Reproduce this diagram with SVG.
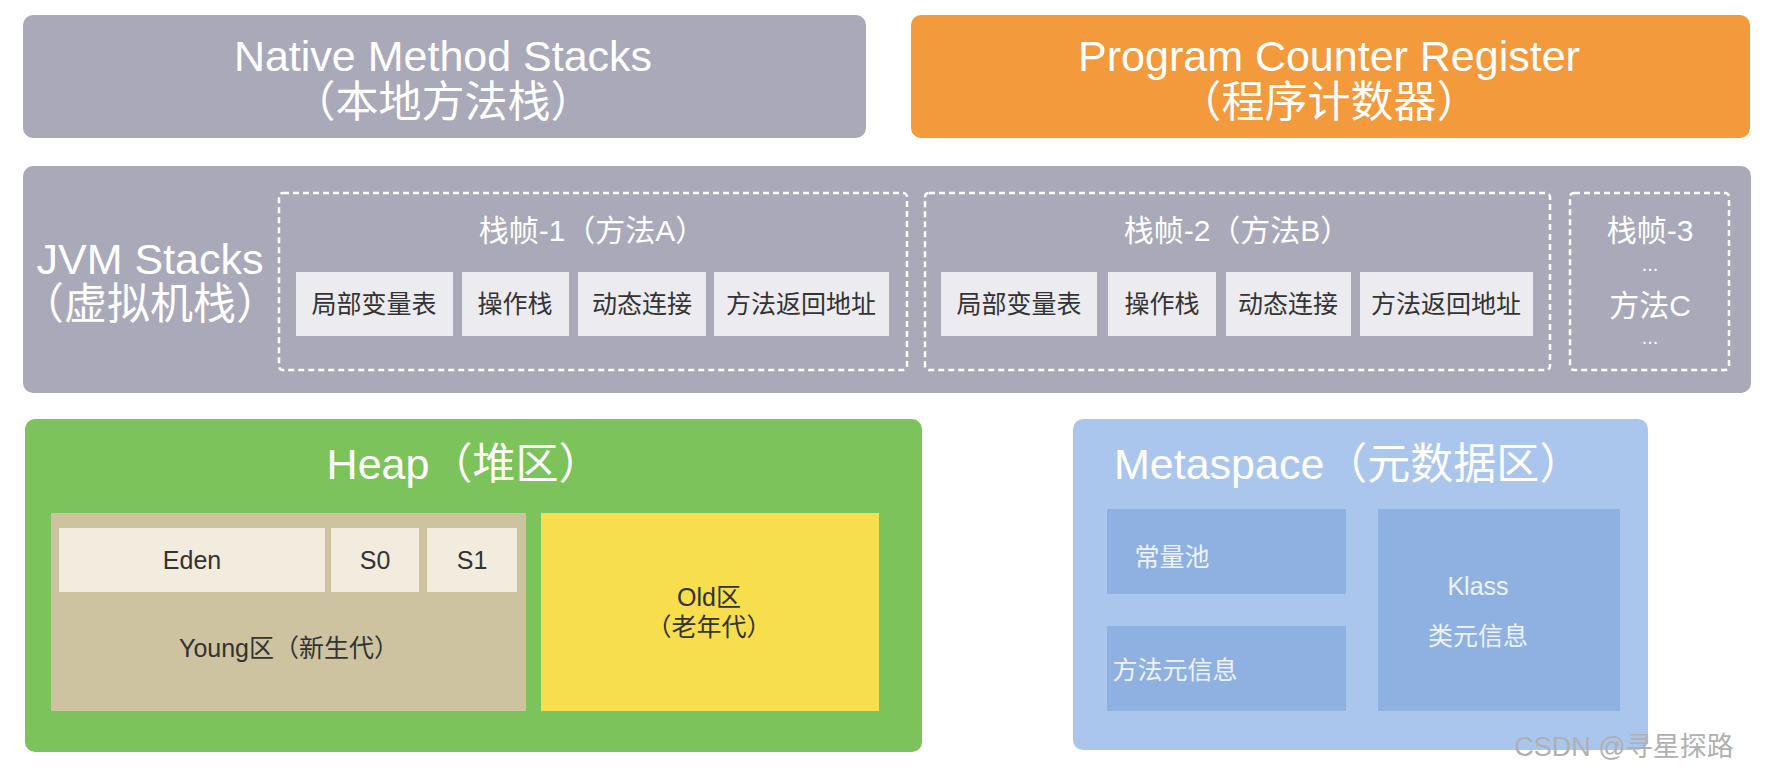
<svg xmlns="http://www.w3.org/2000/svg" width="1774" height="780" viewBox="0 0 1774 780">
<style>
text{font-family:"Liberation Sans","Noto Sans CJK SC",sans-serif;text-anchor:middle;dominant-baseline:central}
.w{fill:#fff}
.big{font-size:43px}
.cell{fill:#ecebf0}
.ct{font-size:25px;fill:#333}
.ft{font-size:30px;fill:#fff}
.dash{fill:none;stroke:#fff;stroke-width:2.5;stroke-dasharray:6 4}
.ms{fill:#8fb1e2}
.mt{font-size:25px;fill:#eef3fb}
</style>
<rect width="1774" height="780" fill="#fff"/>
<g id="native">
<rect x="23" y="15" width="843" height="123" rx="10" fill="#aaa9b9"/>
<text class="w big" x="443" y="56">Native Method Stacks</text>
<text class="w big" x="443" y="102">（本地方法栈）</text>
</g>
<g id="pc">
<rect x="911" y="15" width="839" height="123" rx="10" fill="#f39a3c"/>
<text class="w big" x="1329" y="56">Program Counter Register</text>
<text class="w big" x="1329" y="102">（程序计数器）</text>
</g>
<g id="jvm">
<rect x="23" y="166" width="1728" height="227" rx="10" fill="#aaa9b9"/>
<text class="w big" x="150" y="259">JVM Stacks</text>
<text class="w big" x="150" y="304">（虚拟机栈）</text>
</g>
<g id="frame1">
<rect class="dash" x="279" y="193" width="628" height="177" rx="4"/>
<text class="ft" x="592" y="230">栈帧-1（方法A）</text>
<rect class="cell" x="296" y="272" width="157" height="64"/><text class="ct" x="374" y="304">局部变量表</text>
<rect class="cell" x="462" y="272" width="107" height="64"/><text class="ct" x="515" y="304">操作栈</text>
<rect class="cell" x="578" y="272" width="128" height="64"/><text class="ct" x="642" y="304">动态连接</text>
<rect class="cell" x="714" y="272" width="175" height="64"/><text class="ct" x="801" y="304">方法返回地址</text>
</g>
<g id="frame2">
<rect class="dash" x="925" y="193" width="625" height="177" rx="4"/>
<text class="ft" x="1237" y="230">栈帧-2（方法B）</text>
<rect class="cell" x="941" y="272" width="156" height="64"/><text class="ct" x="1019" y="304">局部变量表</text>
<rect class="cell" x="1108" y="272" width="108" height="64"/><text class="ct" x="1162" y="304">操作栈</text>
<rect class="cell" x="1226" y="272" width="125" height="64"/><text class="ct" x="1288" y="304">动态连接</text>
<rect class="cell" x="1360" y="272" width="173" height="64"/><text class="ct" x="1446" y="304">方法返回地址</text>
</g>
<g id="frame3">
<rect class="dash" x="1570" y="193" width="159" height="177" rx="4"/>
<text class="ft" x="1650" y="230">栈帧-3</text>
<text class="w" font-size="20" x="1650" y="264">...</text>
<text class="ft" x="1650" y="305">方法C</text>
<text class="w" font-size="20" x="1650" y="337">...</text>
</g>
<g id="heap">
<rect x="25" y="419" width="897" height="333" rx="10" fill="#7cc35c"/>
<text class="w big" x="464" y="464">Heap（堆区）</text>
</g>
<g id="young">
<rect x="51" y="513" width="475" height="198" fill="#cdc3a0"/>
<rect x="59" y="528" width="266" height="64" fill="#f1ecde"/><text class="ct" x="192" y="560">Eden</text>
<rect x="331" y="528" width="88" height="64" fill="#f1ecde"/><text class="ct" x="375" y="560">S0</text>
<rect x="427" y="528" width="90" height="64" fill="#f1ecde"/><text class="ct" x="472" y="560">S1</text>
<text class="ct" x="289" y="648">Young区（新生代）</text>
</g>
<g id="old">
<rect x="541" y="513" width="338" height="198" fill="#f6de4c"/>
<text class="ct" x="709" y="597">Old区</text>
<text class="ct" x="709" y="627">（老年代）</text>
</g>
<g id="metaspace">
<rect x="1073" y="419" width="575" height="331" rx="10" fill="#abc6ec"/>
<text class="w big" x="1114" y="464" style="text-anchor:start">Metaspace（元数据区）</text>
<rect class="ms" x="1107" y="509" width="239" height="85"/><text class="mt" x="1172" y="557">常量池</text>
<rect class="ms" x="1107" y="626" width="239" height="85"/><text class="mt" x="1175" y="670">方法元信息</text>
<rect class="ms" x="1378" y="509" width="242" height="202"/>
<text class="mt" x="1478" y="586">Klass</text>
<text class="mt" x="1478" y="636">类元信息</text>
</g>
<text x="1624" y="747" font-size="27" fill="#b0b0b0">CSDN @寻星探路</text>
</svg>
